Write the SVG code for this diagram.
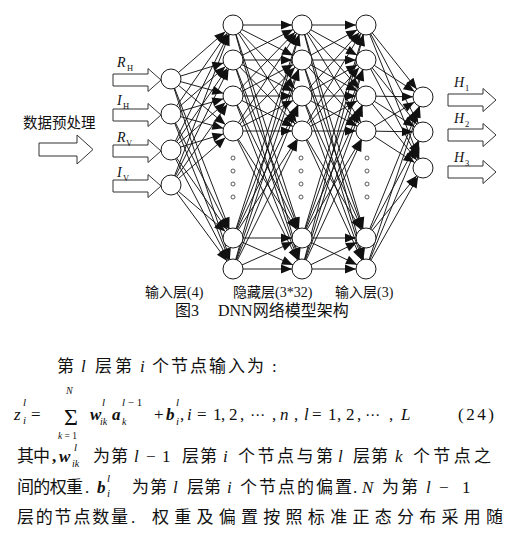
<svg xmlns="http://www.w3.org/2000/svg" xmlns:xlink="http://www.w3.org/1999/xlink" width="524" height="540" viewBox="0 0 524 540">
<style>
.n{fill:#fff;stroke:#1a1a1a;stroke-width:1}
.d{fill:#fff;stroke:#333;stroke-width:0.8}
.c line{stroke:#111;stroke-width:0.95;marker-end:url(#ah)}
.ba{fill:#fff;stroke:#333;stroke-width:1}
text{font-family:"Liberation Serif","Noto Sans CJK SC",serif;fill:#111}
.cj{font-family:"Liberation Serif","Noto Sans CJK SC",sans-serif}
.it{font-style:italic}
.bi{font-style:italic;font-weight:bold}
.dots{font-family:"DejaVu Sans",sans-serif}
</style>
<defs>
<marker id="ah" markerUnits="userSpaceOnUse" markerWidth="30" markerHeight="10" refX="21" refY="4.5" orient="auto" style="overflow:visible">
<path d="M0,0 L11,4.5 L0,9 Z" fill="#111"/>
</marker>
<path id="arr" d="M0,-6 H35 V-11.5 L48,0 L35,11.5 V6 H0 Z"/>
</defs>
<rect width="524" height="540" fill="#fff"/>

<g id="connectors" class="c">
<line x1="171" y1="79" x2="233" y2="25"/><line x1="171" y1="79" x2="233" y2="60"/><line x1="171" y1="79" x2="233" y2="96"/><line x1="171" y1="79" x2="233" y2="131"/><line x1="171" y1="79" x2="233" y2="238"/><line x1="171" y1="79" x2="233" y2="269"/>
<line x1="171" y1="114" x2="233" y2="25"/><line x1="171" y1="114" x2="233" y2="60"/><line x1="171" y1="114" x2="233" y2="96"/><line x1="171" y1="114" x2="233" y2="131"/><line x1="171" y1="114" x2="233" y2="238"/><line x1="171" y1="114" x2="233" y2="269"/>
<line x1="171" y1="150" x2="233" y2="25"/><line x1="171" y1="150" x2="233" y2="60"/><line x1="171" y1="150" x2="233" y2="96"/><line x1="171" y1="150" x2="233" y2="131"/><line x1="171" y1="150" x2="233" y2="238"/><line x1="171" y1="150" x2="233" y2="269"/>
<line x1="171" y1="185" x2="233" y2="25"/><line x1="171" y1="185" x2="233" y2="60"/><line x1="171" y1="185" x2="233" y2="96"/><line x1="171" y1="185" x2="233" y2="131"/><line x1="171" y1="185" x2="233" y2="238"/><line x1="171" y1="185" x2="233" y2="269"/>

<line x1="233" y1="25" x2="302" y2="25"/><line x1="233" y1="25" x2="302" y2="60"/><line x1="233" y1="25" x2="302" y2="96"/><line x1="233" y1="25" x2="302" y2="131"/><line x1="233" y1="25" x2="302" y2="238"/><line x1="233" y1="25" x2="302" y2="269"/>
<line x1="233" y1="60" x2="302" y2="25"/><line x1="233" y1="60" x2="302" y2="60"/><line x1="233" y1="60" x2="302" y2="96"/><line x1="233" y1="60" x2="302" y2="131"/><line x1="233" y1="60" x2="302" y2="238"/><line x1="233" y1="60" x2="302" y2="269"/>
<line x1="233" y1="96" x2="302" y2="25"/><line x1="233" y1="96" x2="302" y2="60"/><line x1="233" y1="96" x2="302" y2="96"/><line x1="233" y1="96" x2="302" y2="131"/><line x1="233" y1="96" x2="302" y2="238"/><line x1="233" y1="96" x2="302" y2="269"/>
<line x1="233" y1="131" x2="302" y2="25"/><line x1="233" y1="131" x2="302" y2="60"/><line x1="233" y1="131" x2="302" y2="96"/><line x1="233" y1="131" x2="302" y2="131"/><line x1="233" y1="131" x2="302" y2="238"/><line x1="233" y1="131" x2="302" y2="269"/>
<line x1="233" y1="238" x2="302" y2="25"/><line x1="233" y1="238" x2="302" y2="60"/><line x1="233" y1="238" x2="302" y2="96"/><line x1="233" y1="238" x2="302" y2="131"/><line x1="233" y1="238" x2="302" y2="238"/><line x1="233" y1="238" x2="302" y2="269"/>
<line x1="233" y1="269" x2="302" y2="25"/><line x1="233" y1="269" x2="302" y2="60"/><line x1="233" y1="269" x2="302" y2="96"/><line x1="233" y1="269" x2="302" y2="131"/><line x1="233" y1="269" x2="302" y2="238"/><line x1="233" y1="269" x2="302" y2="269"/>

<line x1="302" y1="25" x2="366" y2="25"/><line x1="302" y1="25" x2="366" y2="60"/><line x1="302" y1="25" x2="366" y2="96"/><line x1="302" y1="25" x2="366" y2="131"/><line x1="302" y1="25" x2="366" y2="238"/><line x1="302" y1="25" x2="366" y2="269"/>
<line x1="302" y1="60" x2="366" y2="25"/><line x1="302" y1="60" x2="366" y2="60"/><line x1="302" y1="60" x2="366" y2="96"/><line x1="302" y1="60" x2="366" y2="131"/><line x1="302" y1="60" x2="366" y2="238"/><line x1="302" y1="60" x2="366" y2="269"/>
<line x1="302" y1="96" x2="366" y2="25"/><line x1="302" y1="96" x2="366" y2="60"/><line x1="302" y1="96" x2="366" y2="96"/><line x1="302" y1="96" x2="366" y2="131"/><line x1="302" y1="96" x2="366" y2="238"/><line x1="302" y1="96" x2="366" y2="269"/>
<line x1="302" y1="131" x2="366" y2="25"/><line x1="302" y1="131" x2="366" y2="60"/><line x1="302" y1="131" x2="366" y2="96"/><line x1="302" y1="131" x2="366" y2="131"/><line x1="302" y1="131" x2="366" y2="238"/><line x1="302" y1="131" x2="366" y2="269"/>
<line x1="302" y1="238" x2="366" y2="25"/><line x1="302" y1="238" x2="366" y2="60"/><line x1="302" y1="238" x2="366" y2="96"/><line x1="302" y1="238" x2="366" y2="131"/><line x1="302" y1="238" x2="366" y2="238"/><line x1="302" y1="238" x2="366" y2="269"/>
<line x1="302" y1="269" x2="366" y2="25"/><line x1="302" y1="269" x2="366" y2="60"/><line x1="302" y1="269" x2="366" y2="96"/><line x1="302" y1="269" x2="366" y2="131"/><line x1="302" y1="269" x2="366" y2="238"/><line x1="302" y1="269" x2="366" y2="269"/>

<line x1="366" y1="25" x2="423" y2="97"/><line x1="366" y1="25" x2="423" y2="132"/><line x1="366" y1="25" x2="423" y2="168"/>
<line x1="366" y1="60" x2="423" y2="97"/><line x1="366" y1="60" x2="423" y2="132"/><line x1="366" y1="60" x2="423" y2="168"/>
<line x1="366" y1="96" x2="423" y2="97"/><line x1="366" y1="96" x2="423" y2="132"/><line x1="366" y1="96" x2="423" y2="168"/>
<line x1="366" y1="131" x2="423" y2="97"/><line x1="366" y1="131" x2="423" y2="132"/><line x1="366" y1="131" x2="423" y2="168"/>
<line x1="366" y1="238" x2="423" y2="97"/><line x1="366" y1="238" x2="423" y2="132"/><line x1="366" y1="238" x2="423" y2="168"/>
<line x1="366" y1="269" x2="423" y2="97"/><line x1="366" y1="269" x2="423" y2="132"/><line x1="366" y1="269" x2="423" y2="168"/>
</g>

<g id="in1"><circle class="n" cx="171" cy="79" r="10"/></g>
<g id="in2"><circle class="n" cx="171" cy="114" r="10"/></g>
<g id="in3"><circle class="n" cx="171" cy="150" r="10"/></g>
<g id="in4"><circle class="n" cx="171" cy="185" r="10"/></g>

<g id="h1a"><circle class="n" cx="233" cy="25" r="10"/></g>
<g id="h1b"><circle class="n" cx="233" cy="60" r="10"/></g>
<g id="h1c"><circle class="n" cx="233" cy="96" r="10"/></g>
<g id="h1d"><circle class="n" cx="233" cy="131" r="10"/></g>
<g id="h1e"><circle class="n" cx="233" cy="238" r="10"/></g>
<g id="h1f"><circle class="n" cx="233" cy="269" r="10"/></g>

<g id="h2a"><circle class="n" cx="302" cy="25" r="10"/></g>
<g id="h2b"><circle class="n" cx="302" cy="60" r="10"/></g>
<g id="h2c"><circle class="n" cx="302" cy="96" r="10"/></g>
<g id="h2d"><circle class="n" cx="302" cy="131" r="10"/></g>
<g id="h2e"><circle class="n" cx="302" cy="238" r="10"/></g>
<g id="h2f"><circle class="n" cx="302" cy="269" r="10"/></g>

<g id="h3a"><circle class="n" cx="366" cy="25" r="10"/></g>
<g id="h3b"><circle class="n" cx="366" cy="60" r="10"/></g>
<g id="h3c"><circle class="n" cx="366" cy="96" r="10"/></g>
<g id="h3d"><circle class="n" cx="366" cy="131" r="10"/></g>
<g id="h3e"><circle class="n" cx="366" cy="238" r="10"/></g>
<g id="h3f"><circle class="n" cx="366" cy="269" r="10"/></g>

<g id="out1"><circle class="n" cx="423" cy="97" r="10"/></g>
<g id="out2"><circle class="n" cx="423" cy="132" r="10"/></g>
<g id="out3"><circle class="n" cx="423" cy="168" r="10"/></g>

<g id="ellipsis">
<circle class="d" cx="233" cy="158" r="2"/><circle class="d" cx="233" cy="171" r="2"/><circle class="d" cx="233" cy="184" r="2"/><circle class="d" cx="233" cy="197" r="2"/>
<circle class="d" cx="301" cy="158" r="2"/><circle class="d" cx="301" cy="171" r="2"/><circle class="d" cx="301" cy="184" r="2"/><circle class="d" cx="301" cy="197" r="2"/>
<circle class="d" cx="367" cy="158" r="2"/><circle class="d" cx="367" cy="171" r="2"/><circle class="d" cx="367" cy="184" r="2"/><circle class="d" cx="367" cy="197" r="2"/>
</g>

<g id="preprocess">
<path class="ba" d="M39,143 H77 V135 L93,149.5 L77,164 V156 H39 Z"/>
<text class="cj" x="23" y="128" font-size="14.5">数据预处理</text>
</g>

<g id="inputs">
<use href="#arr" xlink:href="#arr" class="ba" x="113" y="80"/>
<use href="#arr" xlink:href="#arr" class="ba" x="113" y="115"/>
<use href="#arr" xlink:href="#arr" class="ba" x="113" y="151"/>
<use href="#arr" xlink:href="#arr" class="ba" x="113" y="186"/>
<text x="117" y="67" font-size="14" class="it">R</text><text x="127" y="71" font-size="8.5">H</text>
<text x="117" y="105" font-size="14" class="it">I</text><text x="123" y="109" font-size="8.5">H</text>
<text x="117" y="142" font-size="14" class="it">R</text><text x="126" y="146" font-size="8.5">V</text>
<text x="117" y="177" font-size="14" class="it">I</text><text x="123" y="181" font-size="8.5">V</text>
</g>

<g id="outputs">
<use href="#arr" xlink:href="#arr" class="ba" x="448" y="100"/>
<use href="#arr" xlink:href="#arr" class="ba" x="448" y="135"/>
<use href="#arr" xlink:href="#arr" class="ba" x="448" y="172"/>
<text x="454" y="87" font-size="14" class="it">H</text><text x="465" y="91" font-size="8.5">1</text>
<text x="454" y="123" font-size="14" class="it">H</text><text x="465" y="127" font-size="8.5">2</text>
<text x="454" y="162" font-size="14" class="it">H</text><text x="465" y="166" font-size="8.5">3</text>
</g>

<g id="labels" font-size="14">
<text x="145" y="297">输入层(4)</text>
<text x="233" y="297">隐藏层(3*32)</text>
<text x="335" y="297">输入层(3)</text>
<text x="175" y="316" font-size="16">图3</text>
<text x="218" y="316" font-size="16">DNN网络模型架构</text>
</g>

<g id="body" font-size="17">
<text x="57" y="372">第</text>
<text x="81" y="372" class="it">l</text>
<text x="95" y="372" textLength="37" lengthAdjust="spacing">层第</text>
<text x="140" y="372" class="it">i</text>
<text x="152" y="372" textLength="112" lengthAdjust="spacing">个节点输入为</text>
<text x="272" y="372">:</text>

<text x="14" y="420" class="it">z</text>
<text x="23" y="406" font-size="11" class="it">l</text>
<text x="23" y="424" font-size="11" class="it">i</text>
<text x="31" y="420">=</text>
<text x="64" y="425" font-size="24" font-family="DejaVu Serif, serif">Σ</text>
<text x="66" y="394" font-size="10" class="it">N</text>
<text x="58" y="439" font-size="9.5"><tspan class="it">k</tspan> = 1</text>
<text x="90" y="420" class="bi">w</text>
<text x="102" y="406" font-size="11" class="it">l</text>
<text x="100" y="425" font-size="10" class="it">ik</text>
<text x="112" y="420" class="bi">a</text>
<text x="122" y="406" font-size="11"><tspan class="it">l</tspan> − 1</text>
<text x="122" y="425" font-size="10" class="it">k</text>
<text x="154" y="420">+</text>
<text x="166" y="420" class="bi">b</text>
<text x="176" y="406" font-size="11" class="it">l</text>
<text x="176" y="425" font-size="11" class="it">i</text>
<text y="420"><tspan x="180">,</tspan><tspan x="187" class="it">i</tspan><tspan x="197">=</tspan><tspan x="213">1</tspan><tspan x="221">,</tspan><tspan x="229">2</tspan><tspan x="240">,</tspan><tspan x="250" class="dots" font-size="15">⋯</tspan><tspan x="272">,</tspan><tspan x="280" class="it">n</tspan><tspan x="294">,</tspan><tspan x="304" class="it">l</tspan><tspan x="312">=</tspan><tspan x="328">1</tspan><tspan x="337">,</tspan><tspan x="346">2</tspan><tspan x="357">,</tspan><tspan x="365" class="dots" font-size="15">⋯</tspan><tspan x="389">,</tspan><tspan x="401" class="it">L</tspan></text>
<text x="458" y="420" textLength="36" lengthAdjust="spacing">(24)</text>

<text x="17" y="462" textLength="33" lengthAdjust="spacing">其中</text>
<text x="52" y="462" font-weight="bold">,</text>
<text x="59" y="462" class="bi">w</text>
<text x="74" y="451" font-size="11" class="it">l</text>
<text x="72" y="467" font-size="10" class="it">ik</text>
<text x="93" y="462" textLength="35" lengthAdjust="spacing">为第</text>
<text x="134" y="462" class="it">l</text>
<text x="146" y="462">−</text>
<text x="162" y="462">1</text>
<text x="182" y="462" textLength="35" lengthAdjust="spacing">层第</text>
<text x="223" y="462" class="it">i</text>
<text x="238" y="462" textLength="95" lengthAdjust="spacing">个节点与第</text>
<text x="338" y="462" class="it">l</text>
<text x="353" y="462" textLength="35" lengthAdjust="spacing">层第</text>
<text x="395" y="462" class="it">k</text>
<text x="413" y="462" textLength="78" lengthAdjust="spacing">个节点之</text>

<text x="17" y="493" textLength="66" lengthAdjust="spacing">间的权重</text>
<text x="85" y="493">.</text>
<text x="97" y="493" class="bi">b</text>
<text x="107" y="482" font-size="11" class="it">l</text>
<text x="107" y="497" font-size="11" class="it">i</text>
<text x="132" y="493" textLength="35" lengthAdjust="spacing">为第</text>
<text x="173" y="493" class="it">l</text>
<text x="187" y="493" textLength="34" lengthAdjust="spacing">层第</text>
<text x="227" y="493" class="it">i</text>
<text x="240" y="493" textLength="112" lengthAdjust="spacing">个节点的偏置</text>
<text x="353" y="493">.</text>
<text x="362" y="493" class="it">N</text>
<text x="382" y="493" textLength="36" lengthAdjust="spacing">为第</text>
<text x="426" y="493" class="it">l</text>
<text x="439" y="493">−</text>
<text x="462" y="493">1</text>

<text x="17" y="523" textLength="111" lengthAdjust="spacing">层的节点数量</text>
<text x="131" y="523">.</text>
<text x="152" y="523" textLength="351" lengthAdjust="spacing">权重及偏置按照标准正态分布采用随</text>
</g>
</svg>
